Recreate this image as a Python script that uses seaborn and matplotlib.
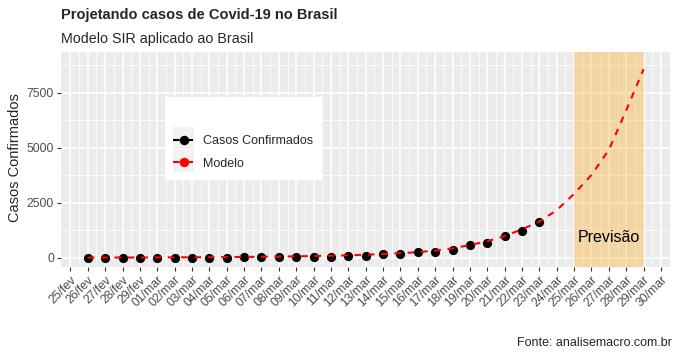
import matplotlib
matplotlib.use("Agg")
import matplotlib.pyplot as plt
from matplotlib.lines import Line2D
from matplotlib.patches import Rectangle
import numpy as np
import pandas as pd
import seaborn as sns

# eixo: 25/fev a 30/mar de 2020
axis_start = "2020-02-25"
axis_end = "2020-03-30"
tick_labels = [
    "25/fev", "26/fev", "27/fev", "28/fev", "29/fev",
    "01/mar", "02/mar", "03/mar", "04/mar", "05/mar", "06/mar", "07/mar",
    "08/mar", "09/mar", "10/mar", "11/mar", "12/mar", "13/mar", "14/mar",
    "15/mar", "16/mar", "17/mar", "18/mar", "19/mar", "20/mar", "21/mar",
    "22/mar", "23/mar", "24/mar", "25/mar", "26/mar", "27/mar", "28/mar",
    "29/mar", "30/mar",
]

# casos confirmados, 26/fev a 23/mar
confirmed_start = "2020-02-26"
confirmed_cases = [
    1, 1, 1, 2,
    2, 2, 2, 3, 8, 13, 19, 25, 30, 34, 52, 77, 98, 150, 150, 240, 250,
    370, 560, 650, 1000, 1220, 1620,
]

# modelo SIR, 26/fev a 29/mar
model_start = "2020-02-26"
model_cases = [
    5, 6, 8, 10,
    12, 15, 18, 22, 27, 33, 40, 50, 60, 75, 90, 110, 135, 165, 205, 250,
    325, 425, 575, 745, 985, 1290, 1640, 2160, 2900, 3760, 4900, 6700, 8570,
]

forecast_start = "2020-03-25"
forecast_end = "2020-03-29"
y_ticks = [0, 2500, 5000, 7500]


def build_frames():
    conf = pd.DataFrame({
        "date": pd.date_range(confirmed_start, periods=len(confirmed_cases), freq="D"),
        "cases": confirmed_cases,
    })
    model = pd.DataFrame({
        "date": pd.date_range(model_start, periods=len(model_cases), freq="D"),
        "cases": model_cases,
    })
    return conf, model


def main():
    sns.set_theme(style="darkgrid")
    plt.rcParams["font.family"] = ["Liberation Sans", "DejaVu Sans"]

    conf, model = build_frames()
    days = pd.date_range(axis_start, axis_end, freq="D")

    fig = plt.figure(figsize=(6.79, 3.55), dpi=100)
    fig.patch.set_facecolor("white")
    W, H = 679, 355
    ax = fig.add_axes([61 / W, 1 - 266.7 / H, (670 - 61) / W, (266.7 - 51.7) / H])
    ax.set_facecolor("#EBEBEB")
    for s in ax.spines.values():
        s.set_visible(False)

    dash = (0, (3.2, 3.2))
    sns.scatterplot(data=conf, x="date", y="cases", color="black", s=44,
                    linewidth=0, ax=ax, zorder=4, legend=False)
    sns.lineplot(data=model, x="date", y="cases", color="red", linewidth=1.5,
                 linestyle=dash, ax=ax, zorder=5, legend=False)

    ax.axvspan(pd.Timestamp(forecast_start), pd.Timestamp(forecast_end),
               color="orange", alpha=0.3, linewidth=0, zorder=2)
    ax.text(pd.Timestamp("2020-03-27"), 730, "Previsão", ha="center",
            va="baseline", fontsize=11.5, color="black", zorder=6)

    half = pd.Timedelta(hours=12)
    ax.set_xlim(days[0] - pd.Timedelta(hours=13), days[-1] + pd.Timedelta(hours=12.5))
    ax.set_ylim(-410, 9365)

    ax.set_xticks(days)
    ax.set_xticklabels(tick_labels, rotation=45, ha="right",
                       rotation_mode="anchor", fontsize=8.8, color="#4D4D4D")
    ax.set_xticks(list(days[:-1] + half), minor=True)
    ax.set_yticks(y_ticks)
    ax.set_yticklabels([str(v) for v in y_ticks], fontsize=8.7, color="#4D4D4D")
    ax.set_yticks([1250, 3750, 6250, 8750], minor=True)

    ax.grid(which="major", color="white", linewidth=1.1)
    ax.grid(which="minor", color="white", linewidth=0.55)
    ax.set_axisbelow(True)
    ax.tick_params(which="major", length=3, width=0.8, color="#333333", pad=2,
                   left=True, bottom=True)
    ax.tick_params(which="minor", length=0)

    ax.set_xlabel("")
    ax.set_ylabel("")
    fig.text(15 / W, 1 - 158 / H, "Casos Confirmados", rotation=90,
             ha="center", va="center", fontsize=10.5)

    fig.text(61 / W, 1 - 18.5 / H, "Projetando casos de Covid-19 no Brasil",
             fontsize=10.5, fontweight="bold", va="baseline")
    fig.text(61 / W, 1 - 43.3 / H, "Modelo SIR aplicado ao Brasil",
             fontsize=10.3, va="baseline")
    fig.text(671.7 / W, 1 - 346.5 / H, "Fonte: analisemacro.com.br",
             fontsize=9, ha="right", va="baseline")

    # caixa da legenda
    fig.add_artist(Rectangle((165 / W, 1 - 180 / H), 157 / W, 83 / H,
                             transform=fig.transFigure, facecolor="white",
                             edgecolor="none", zorder=3))
    for top in (127.3, 150.0):
        fig.add_artist(Rectangle((173.3 / W, 1 - (top + 21.7) / H), 21 / W, 21.7 / H,
                                 transform=fig.transFigure, facecolor="#F2F2F2",
                                 edgecolor="none", zorder=3.5))
    handles = [
        Line2D([], [], color="black", marker="o", markersize=5.8, linewidth=1.5,
               linestyle=dash),
        Line2D([], [], color="red", marker="o", markersize=5.8, linewidth=1.5,
               linestyle=dash),
    ]
    leg = fig.legend(handles, ["Casos Confirmados", "Modelo"],
                     loc="center left", bbox_to_anchor=(173.3 / W, 1 - 152.5 / H),
                     frameon=False, fontsize=9, borderpad=0, borderaxespad=0,
                     handlelength=1.68, handletextpad=0.72, labelspacing=0.85)
    leg.set_zorder(4)

    fig.savefig("out.png", dpi=100)
    plt.close(fig)


if __name__ == "__main__":
    main()
